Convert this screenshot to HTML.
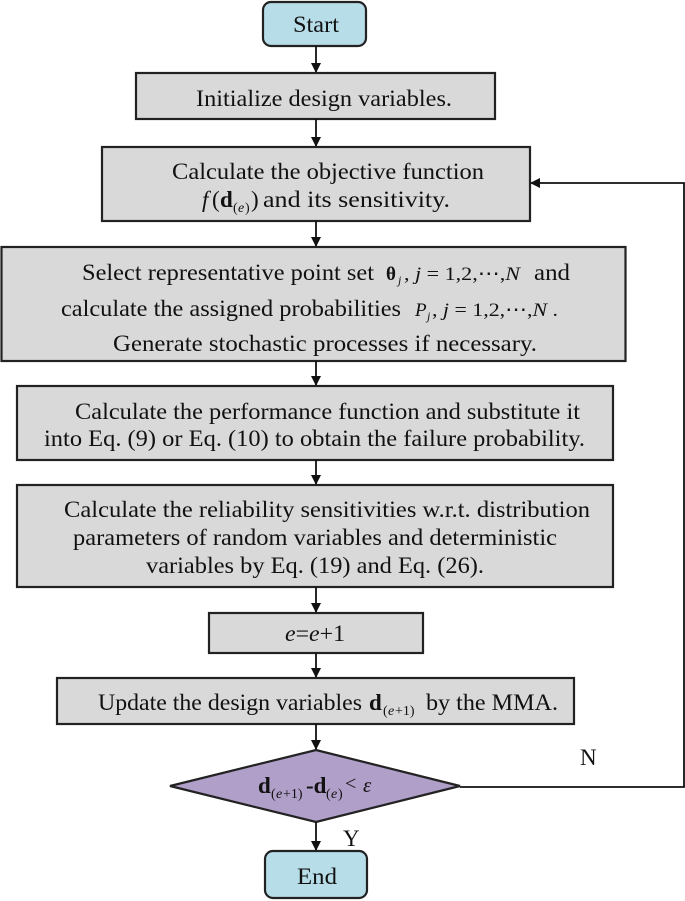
<!DOCTYPE html>
<html><head><meta charset="utf-8"><style>
html,body{margin:0;padding:0;background:#fff;}
svg{display:block;font-family:"Liberation Serif",serif;font-size:23px;fill:#111;}
</style></head><body>
<svg width="685" height="901" viewBox="0 0 685 901">
<defs><marker id="a" markerWidth="10" markerHeight="10" refX="9" refY="5" orient="auto" markerUnits="userSpaceOnUse"><path d="M0,0 L10,5 L0,10 z" fill="#111"/></marker></defs>
<g stroke="#222" stroke-width="2.2">
<rect x="263" y="2" width="103" height="44" rx="8" fill="#b7dde8"/>
<rect x="136" y="73" width="359" height="46" fill="#d9d9d9"/>
<rect x="102" y="147" width="428" height="74" fill="#d9d9d9"/>
<rect x="1.5" y="247" width="624" height="114" fill="#d9d9d9"/>
<rect x="17" y="386" width="596" height="74" fill="#d9d9d9"/>
<rect x="17" y="485" width="596" height="102" fill="#d9d9d9"/>
<rect x="209" y="613" width="214" height="40" fill="#d9d9d9"/>
<rect x="57" y="678" width="517" height="46" fill="#d9d9d9"/>
<polygon points="170,786 316,750 460,786 316,822" fill="#b09fc8"/>
<rect x="265" y="851" width="102" height="47" rx="8" fill="#b7dde8"/>
</g>
<g stroke="#111" stroke-width="1.8" fill="none">
<line x1="316" y1="46" x2="316" y2="72" marker-end="url(#a)"/>
<line x1="316" y1="119" x2="316" y2="146" marker-end="url(#a)"/>
<line x1="316" y1="221" x2="316" y2="246" marker-end="url(#a)"/>
<line x1="316" y1="361" x2="316" y2="385" marker-end="url(#a)"/>
<line x1="316" y1="460" x2="316" y2="484" marker-end="url(#a)"/>
<line x1="316" y1="587" x2="316" y2="612" marker-end="url(#a)"/>
<line x1="316" y1="653" x2="316" y2="677" marker-end="url(#a)"/>
<line x1="316" y1="724" x2="316" y2="749" marker-end="url(#a)"/>
<line x1="316" y1="822" x2="316" y2="850" marker-end="url(#a)"/>
<polyline points="460,787 684,787 684,183 531,183" marker-end="url(#a)"/>
</g>
<g fill="#111">
<text x="293" y="32" textLength="46" lengthAdjust="spacingAndGlyphs">Start</text>
<text x="196" y="106" textLength="256" lengthAdjust="spacingAndGlyphs">Initialize design variables.</text>
<text x="172" y="179" textLength="312" lengthAdjust="spacingAndGlyphs">Calculate the objective function</text>
<text x="202" y="207" font-style="italic">f</text>
<text x="212" y="207">(</text>
<text x="220" y="207" font-weight="bold">d</text>
<text x="233" y="212" font-size="14">(</text><text x="238" y="212" font-size="14" font-style="italic">e</text><text x="245" y="212" font-size="14">)</text>
<text x="251" y="207">)</text>
<text x="263" y="207" textLength="187" lengthAdjust="spacingAndGlyphs">and its sensitivity.</text>
<text x="82" y="280" textLength="292" lengthAdjust="spacingAndGlyphs">Select representative point set</text>
<text x="386" y="280" font-weight="bold" font-size="19">θ</text><text x="398" y="284" font-size="12" font-style="italic">j</text>
<text x="404" y="280" font-size="19" textLength="116" lengthAdjust="spacingAndGlyphs">, <tspan font-style="italic">j</tspan> = 1,2,⋯,<tspan font-style="italic">N</tspan></text>
<text x="534" y="280" textLength="36" lengthAdjust="spacingAndGlyphs">and</text>
<text x="61" y="316" textLength="340" lengthAdjust="spacingAndGlyphs">calculate the assigned probabilities</text>
<text x="415" y="316" font-size="19" font-style="italic">P</text><text x="427" y="320" font-size="12" font-style="italic">j</text>
<text x="432" y="316" font-size="19" textLength="126" lengthAdjust="spacingAndGlyphs">, <tspan font-style="italic">j</tspan> = 1,2,⋯,<tspan font-style="italic">N</tspan> .</text>
<text x="113" y="351" textLength="424" lengthAdjust="spacingAndGlyphs">Generate stochastic  processes if necessary.</text>
<text x="75" y="419" textLength="505" lengthAdjust="spacingAndGlyphs">Calculate the performance function and substitute it</text>
<text x="44" y="446" textLength="541" lengthAdjust="spacingAndGlyphs">into Eq. (9) or Eq. (10) to obtain the failure probability.</text>
<text x="64" y="517" textLength="526" lengthAdjust="spacingAndGlyphs">Calculate the reliability sensitivities w.r.t. distribution</text>
<text x="73" y="545" textLength="484" lengthAdjust="spacingAndGlyphs">parameters of random variables and deterministic</text>
<text x="146" y="573" textLength="338" lengthAdjust="spacingAndGlyphs">variables by Eq. (19) and Eq. (26).</text>
<text x="285" y="641" textLength="60" lengthAdjust="spacingAndGlyphs"><tspan font-style="italic">e</tspan>=<tspan font-style="italic">e</tspan>+1</text>
<text x="98" y="710" textLength="264" lengthAdjust="spacingAndGlyphs">Update the design variables</text>
<text x="369" y="710" font-weight="bold">d</text>
<text x="383" y="715" font-size="14">(</text><text x="388" y="715" font-size="14" font-style="italic">e</text><text x="395" y="715" font-size="14">+1)</text>
<text x="426" y="710" textLength="132" lengthAdjust="spacingAndGlyphs">by the MMA.</text>
<text x="258" y="793" font-weight="bold">d</text>
<text x="271" y="798" font-size="14">(</text><text x="276" y="798" font-size="14" font-style="italic">e</text><text x="283" y="798" font-size="14">+1)</text>
<text x="306" y="793" font-weight="bold">-d</text>
<text x="326" y="798" font-size="14">(</text><text x="331" y="798" font-size="14" font-style="italic">e</text><text x="338" y="798" font-size="14">)</text>
<text x="345" y="790" font-size="20">&lt;</text>
<text x="363" y="792" font-style="italic" font-size="21">ε</text>
<text x="580" y="765">N</text>
<text x="343" y="846">Y</text>
<text x="297" y="884" textLength="40" lengthAdjust="spacingAndGlyphs">End</text>
</g>
</svg>
</body></html>
